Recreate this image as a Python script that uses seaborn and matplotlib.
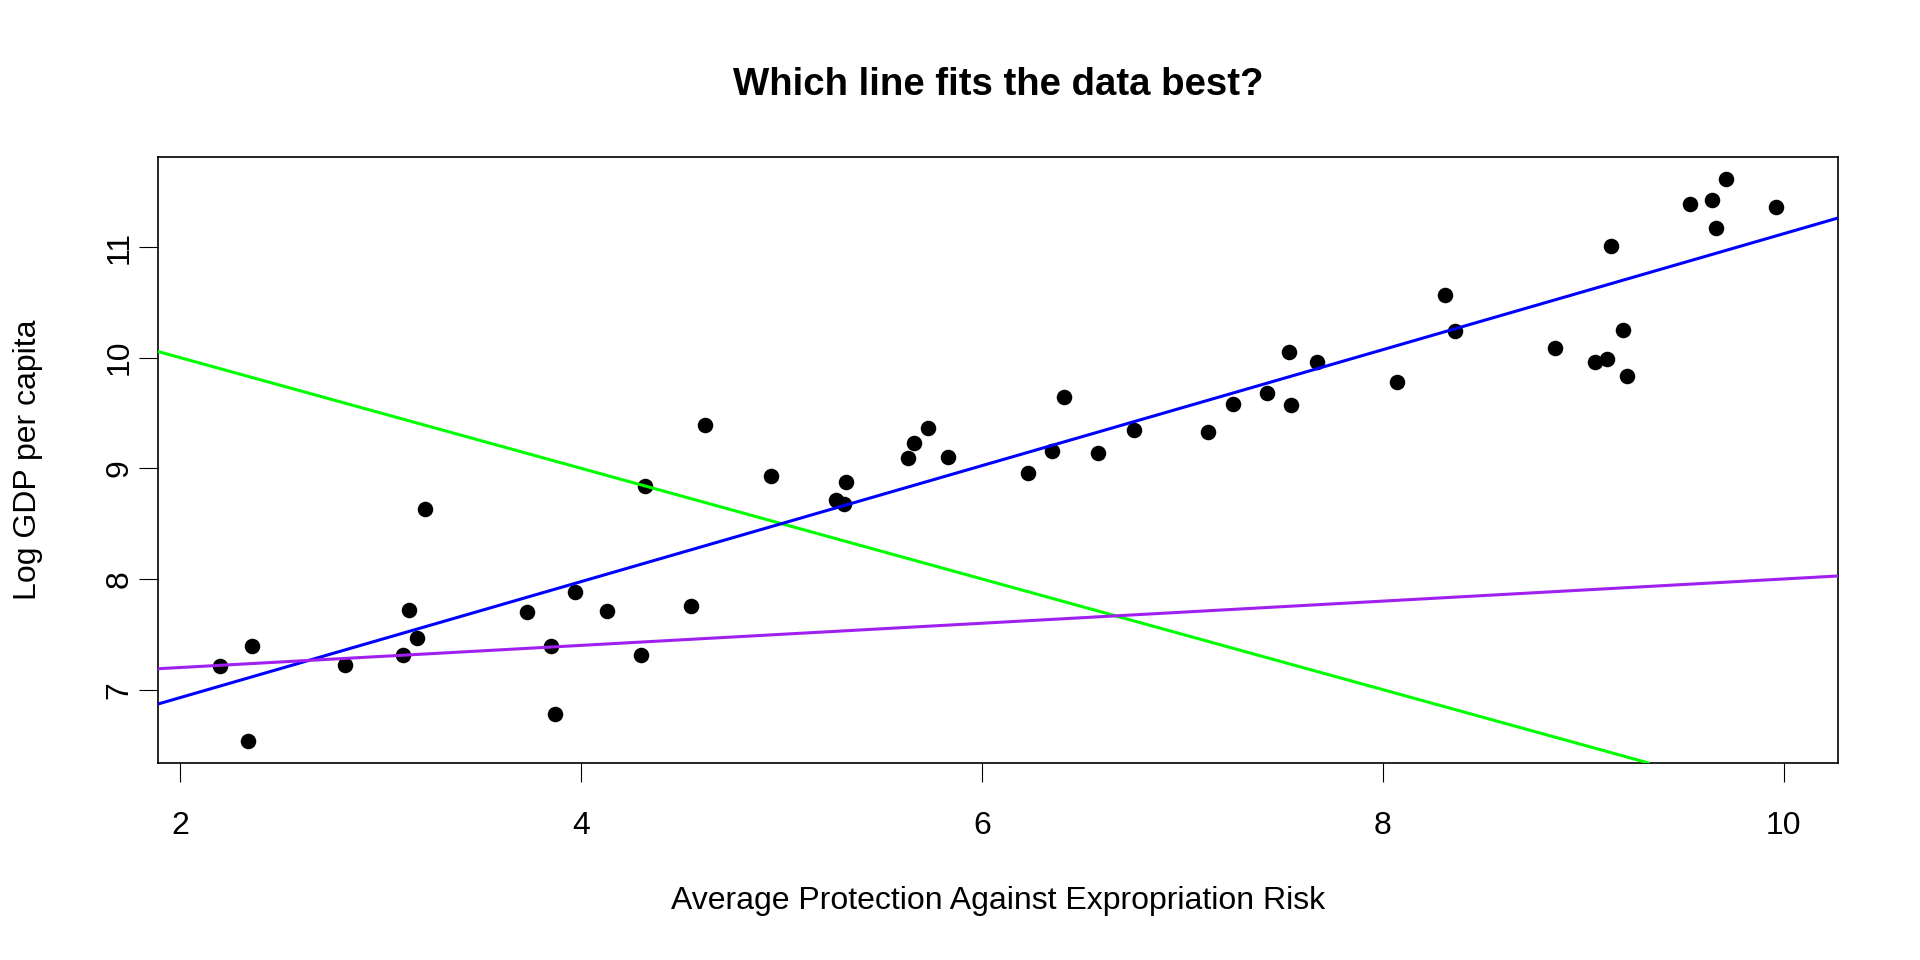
import matplotlib
matplotlib.use("Agg")
import matplotlib.pyplot as plt
import seaborn as sns
import pandas as pd

# Average protection against expropriation risk vs log GDP per capita
avexpr = [2.20, 2.36, 2.34, 2.82, 3.11, 3.14, 3.18, 3.22, 3.73, 3.85,
          3.87, 3.97, 4.13, 4.30, 4.32, 4.55, 4.62, 4.95, 5.32, 5.27,
          5.31, 5.63, 5.66, 5.73, 5.83, 6.23, 6.35, 6.41, 6.58, 6.76,
          7.13, 7.25, 7.42, 7.53, 7.54, 7.67, 8.07, 8.31, 8.36, 8.86,
          9.06, 9.12, 9.14, 9.20, 9.22, 9.53, 9.64, 9.66, 9.71, 9.96]
loggdp = [7.21, 7.39, 6.54, 7.22, 7.31, 7.72, 7.47, 8.63, 7.70, 7.39,
          6.78, 7.88, 7.71, 7.31, 8.84, 7.76, 9.39, 8.93, 8.88, 8.71,
          8.68, 9.09, 9.23, 9.36, 9.10, 8.96, 9.16, 9.64, 9.14, 9.35,
          9.33, 9.58, 9.68, 10.05, 9.57, 9.96, 9.78, 10.57, 10.24, 10.09,
          9.96, 9.99, 11.01, 10.25, 9.83, 11.39, 11.42, 11.17, 11.61, 11.36]

# candidate lines: (intercept, slope, colour)
line_intercepts = [11.0, 5.88, 7.0]
line_slopes = [-0.5, 0.524, 0.1]
line_colors = ["#00FF00", "#0000FF", "#A020F0"]

x_ticks = [2, 4, 6, 8, 10]
y_ticks = [7, 8, 9, 10, 11]

sns.set_style("white")
plt.rcParams['font.family'] = ['Liberation Sans', 'DejaVu Sans']
plt.rcParams['text.color'] = 'black'
plt.rcParams['axes.labelcolor'] = 'black'

df = pd.DataFrame({"avexpr": avexpr, "loggdp": loggdp})

fig = plt.figure(figsize=(19.2, 9.6), dpi=100)
ax = fig.add_axes([158 / 1920, 1 - 763 / 960, 1680 / 1920, 606 / 960])

sns.scatterplot(data=df, x="avexpr", y="loggdp", ax=ax, color="black",
                s=125, linewidth=0, zorder=2)

for a, b, c in zip(line_intercepts, line_slopes, line_colors):
    ax.axline((0, a), slope=b, color=c, lw=2.2, zorder=3)

# R style 4% padding around the data
xr = max(avexpr) - min(avexpr)
yr = max(loggdp) - min(loggdp)
ax.set_xlim(min(avexpr) - 0.04 * xr, max(avexpr) + 0.04 * xr)
ax.set_ylim(min(loggdp) - 0.04 * yr, max(loggdp) + 0.04 * yr)

ax.set_xticks(x_ticks)
ax.set_yticks(y_ticks)
ax.set_xticklabels([str(t) for t in x_ticks])
ax.set_yticklabels([str(t) for t in y_ticks], rotation=90, va="center")
ax.tick_params(axis="both", direction="out", length=13.7, width=0.8,
               labelsize=23, colors="black", left=True, bottom=True)
ax.tick_params(axis="x", pad=21)
ax.tick_params(axis="y", pad=3)

for sp in ax.spines.values():
    sp.set_visible(True)
    sp.set_color("black")
    sp.set_linewidth(1.2)

ax.set_xlabel("Average Protection Against Expropriation Risk", fontsize=23)
ax.set_ylabel("Log GDP per capita", fontsize=23)
ax.xaxis.set_label_coords(0.5, (763 - 901) / 606)
ax.xaxis.label.set_va("center")
ax.yaxis.set_label_coords((28.5 - 158) / 1680, 0.5)
ax.yaxis.label.set_va("center")

ax.text(0.5, (763 - 85) / 606, "Which line fits the data best?", fontsize=27.6,
        fontweight="bold", ha="center", va="center", transform=ax.transAxes)

fig.savefig("out.png", dpi=100, facecolor="white")
plt.close(fig)
